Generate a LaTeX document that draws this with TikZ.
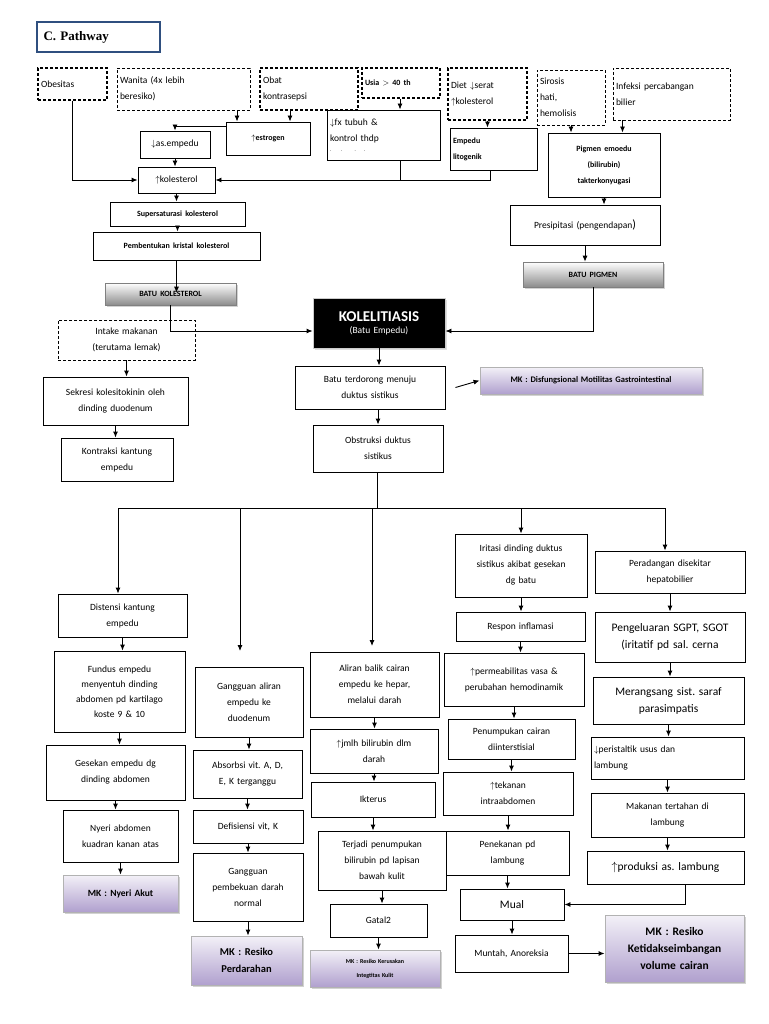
\documentclass[tikz,border=0pt]{standalone}
\usepackage{fontspec}
\setmainfont{Carlito}
\newfontfamily\serifbold{Liberation Serif}
\usetikzlibrary{arrows.meta,shadows}
\definecolor{mkpurple}{RGB}{176,160,206}
\definecolor{titleblue}{RGB}{47,79,127}
\tikzset{
  b/.style={draw,line width=0.9pt,align=center,inner sep=2pt,font=\fontsize{9.5}{16}\selectfont},
  dsh/.style={dash pattern=on 3pt off 2pt},
  dthick/.style={dsh,line width=1.4pt},
  gray box/.style={top color=white,bottom color=black!45,draw=black!50,drop shadow={shadow xshift=2pt,shadow yshift=-2pt,fill=black!35}},
  mk/.style={top color=white!85!mkpurple,bottom color=mkpurple,draw=black!30,drop shadow={shadow xshift=2pt,shadow yshift=-2pt,fill=black!35},font=\bfseries\fontsize{9.5}{16}\selectfont},
  a/.style={line width=0.9pt,-{Latex[length=6pt,width=5pt]}},
  l/.style={line width=0.9pt}
}
\newcommand{\mybox}[7]{\node[b,#7,minimum width={#4pt-#2pt},minimum height={#5pt-#3pt},text width={#4pt-#2pt-6pt}] (#1) at ({(#2+#4)/2},{(#3+#5)/2}) {#6};}
\begin{document}
\frenchspacing
\begin{tikzpicture}[x=1pt,y=-1pt]
\useasboundingbox (0,0) rectangle (768,1024);
\node[draw=titleblue,line width=1.6pt,minimum width=123pt,minimum height=30pt,font=\serifbold\bfseries\fontsize{13}{15}\selectfont,text width=110pt,align=left] (title) at (98.5,37) {C. Pathway};
% top row
\mybox{obes}{38}{68}{107}{100}{\raggedright Obesitas\par\vspace{10pt}}{dthick,align=left}
\mybox{wan}{117}{68}{250}{110}{\raggedright Wanita (4x lebih\\ beresiko)}{dsh,align=left}
\mybox{obat}{260}{68}{358}{110}{\raggedright Obat\\ kontrasepsi}{dthick,align=left}
\mybox{usia}{362}{68}{440}{98}{\raggedright\bfseries\fontsize{8}{10}\selectfont Usia $>$ 40 th\par\vspace{6pt}}{dthick,align=left}
\mybox{diet}{448}{68}{527}{120}{\raggedright Diet $\downarrow$serat\\ $\uparrow$kolesterol}{dthick,align=left}
\mybox{sir}{537}{70}{605}{125}{\raggedright Sirosis\\ hati,\\ hemolisis}{dsh,align=left}
\mybox{inf}{613}{68}{730}{120}{\raggedright Infeksi percabangan\\ bilier\par\vspace{8pt}}{dsh,align=left}
% second row
\mybox{asemp}{140}{131}{210}{158}{$\downarrow$as.empedu}{}
\mybox{estr}{226}{122}{310}{155}{\bfseries\fontsize{8}{10}\selectfont$\uparrow$estrogen}{}
\mybox{fx}{327}{110}{440}{160}{\raggedright $\downarrow$fx tubuh \&\\ kontrol thdp\\[-6pt] \tiny . \ \ . \ \ \ . \quad .}{align=left}
\mybox{emp}{450}{128}{537}{170}{\raggedright\bfseries\fontsize{8}{16}\selectfont Empedu\\ litogenik}{align=left}
\mybox{pig}{548}{133}{660}{197}{\bfseries\fontsize{8}{16}\selectfont Pigmen emoedu\\ (bilirubin)\\ takterkonyugasi}{}
\mybox{kol}{138}{167}{215}{193}{$\uparrow$kolesterol}{}
\mybox{sup}{110}{202}{245}{226}{\bfseries\fontsize{8}{10}\selectfont Supersaturasi kolesterol}{}
\mybox{pem}{93}{232}{260}{260}{\bfseries\fontsize{8}{10}\selectfont Pembentukan kristal kolesterol}{}
\mybox{pres}{510}{205}{660}{245}{Presipitasi (pengendapan{\large )}}{}
\mybox{batup}{523}{262}{663}{287}{\bfseries\fontsize{8}{10}\selectfont BATU PIGMEN}{gray box,line width=0.6pt}
\mybox{batuk}{105}{283}{236}{305}{\bfseries\fontsize{8}{10}\selectfont BATU KOLESTEROL}{gray box,line width=0.6pt}
\mybox{kolel}{313}{298}{445}{348}{{\bfseries\fontsize{15}{18}\selectfont KOLELITIASIS}\\[-4pt] (Batu Empedu)}{fill=black,text=white,draw=black!20,drop shadow={shadow xshift=2pt,shadow yshift=-2pt,fill=black!25}}
\mybox{intk}{58}{320}{195}{360}{Intake makanan\\ (terutama lemak)}{dsh,line width=0.7pt}
\mybox{sekr}{43}{377}{188}{425}{Sekresi kolesitokinin oleh\\ dinding duodenum}{}
\mybox{kontr}{61}{438}{173}{481}{Kontraksi kantung\\ empedu}{}
\mybox{batu}{295}{366}{445}{409}{Batu terdorong menuju\\ duktus sistikus}{}
\mybox{mk1}{480}{367}{702}{394}{MK : Disfungsional Motilitas Gastrointestinal}{mk,font=\bfseries\fontsize{8.5}{10}\selectfont}
\mybox{obs}{313}{425}{443}{472}{Obstruksi duktus\\ sistikus}{}
% column 1
\mybox{dist}{58}{594}{187}{637}{Distensi kantung\\ empedu}{}
\mybox{fund}{54}{651}{185}{732}{Fundus empedu\\ menyentuh dinding\\ abdomen pd kartilago\\ koste 9 \& 10}{font=\fontsize{9.5}{15}\selectfont}
\mybox{gese}{46}{745}{185}{800}{Gesekan empedu dg\\ dinding abdomen\par\vspace{8pt}}{}
\mybox{nyer}{63}{810}{178}{862}{Nyeri abdomen\\ kuadran kanan atas\par\vspace{8pt}}{}
\mybox{mkn}{63}{875}{178}{912}{MK : Nyeri Akut\par\vspace{8pt}}{mk}
% column 2
\mybox{gang}{195}{667}{303}{737}{Gangguan aliran\\ empedu ke\\ duodenum}{}
\mybox{abs}{193}{750}{302}{798}{Absorbsi vit. A, D,\\ E, K terganggu}{}
\mybox{defi}{193}{810}{303}{843}{Defisiensi vit, K\par\vspace{6pt}}{}
\mybox{gpem}{193}{853}{303}{921}{Gangguan\\ pembekuan darah\\ normal}{}
\mybox{mkp}{191}{936}{302}{985}{MK : Resiko\\ Perdarahan}{mk,font=\bfseries\fontsize{10.5}{17}\selectfont}
% column 3
\mybox{alir}{310}{652}{439}{717}{Aliran balik cairan\\ empedu ke hepar,\\ melalui darah}{}
\mybox{jmlh}{310}{729}{438}{773}{$\uparrow$jmlh bilirubin dlm\\ darah}{}
\mybox{ikt}{311}{782}{435}{817}{Ikterus\par\vspace{8pt}}{}
\mybox{terj}{318}{831}{446}{890}{Terjadi penumpukan\\ bilirubin pd lapisan\\ bawah kulit}{}
\mybox{gat}{330}{904}{427}{937}{Gatal2\par\vspace{6pt}}{}
\mybox{mkk}{310}{950}{440}{987}{MK : Resiko Kerusakan\\ Integtitas Kulit}{mk,font=\bfseries\fontsize{6}{14}\selectfont}
% column 4
\mybox{irit}{455}{534}{587}{597}{Iritasi dinding duktus\\ sistikus akibat gesekan\\ dg batu}{}
\mybox{resp}{456}{612}{585}{641}{Respon inflamasi}{}
\mybox{perm}{444}{653}{584}{706}{$\uparrow$permeabilitas vasa \&\\ perubahan hemodinamik\par\vspace{8pt}}{}
\mybox{penu}{448}{719}{575}{759}{Penumpukan cairan\\ diinterstisial}{}
\mybox{teka}{443}{772}{573}{815}{$\uparrow$tekanan\\ intraabdomen}{}
\mybox{pene}{446}{831}{569}{875}{Penekanan pd\\ lambung\par\vspace{6pt}}{}
\mybox{mual}{460}{889}{564}{920}{\fontsize{11.5}{13}\selectfont Mual}{}
\mybox{munt}{455}{935}{568}{972}{Muntah, Anoreksia\par\vspace{8pt}}{}
\mybox{mkc}{605}{915}{744}{982}{MK : Resiko\\ Ketidakseimbangan\\ volume cairan}{mk,font=\bfseries\fontsize{11.5}{17}\selectfont}
% column 5
\mybox{pera}{595}{551}{745}{593}{Peradangan disekitar\\ hepatobilier}{}
\mybox{peng}{595}{612}{745}{662}{Pengeluaran SGPT, SGOT\\ (iritatif pd sal. cerna\par\vspace{6pt}}{font=\fontsize{11.5}{17}\selectfont}
\mybox{mera}{593}{677}{744}{724}{Merangsang sist. saraf\\ parasimpatis}{font=\fontsize{11.5}{17}\selectfont}
\mybox{peri}{591}{737}{744}{779}{\raggedright $\downarrow$peristaltik usus dan\\ lambung}{align=left}
\mybox{maka}{591}{793}{744}{837}{Makanan tertahan di\\ lambung}{}
\mybox{prod}{587}{851}{744}{884}{$\uparrow$produksi as. lambung\par\vspace{4pt}}{font=\fontsize{11.5}{14}\selectfont}
% arrows top
\draw[a] (obes.south) |- (kol.west);
\draw[a] ([xshift=-31pt]estr.north |- wan.south) -- ([xshift=-31pt]estr.north);
\draw[a] ([xshift=22pt]estr.north |- obat.south) -- ([xshift=22pt]estr.north);
\draw[a] ([yshift=-5pt]estr.north west) -| (asemp.north);
\draw[a] (asemp.south) -- (asemp.south |- kol.north);
\draw[a] ([xshift=-1pt]usia.south) -- ([xshift=-1pt]usia.south |- fx.north);
\draw[l] ([xshift=-1pt]usia.south |- fx.south) -- ([xshift=-1pt]usia.south |- kol.east);
\draw[a] ([xshift=-3pt]emp.south) |- (kol.east);
\draw[a] (diet.south) -- (diet.south |- emp.north);
\draw[a] (sir.south) -- (sir.south |- pig.north);
\draw[a] ([xshift=-49pt]inf.south) -- ([xshift=-49pt]inf.south |- pig.north);
\draw[a] (kol.south) -- (kol.south |- sup.north);
\draw[a] (sup.south) -- (sup.south |- pem.north);
\draw[a] (pem.south) -- ([yshift=-10pt]pem.south |- batuk.north);
\draw[a] (pig.south) -- (pig.south |- pres.north);
\draw[a] (pres.south) -- (pres.south |- batup.north);
\draw[a] (batuk.south) |- ([yshift=-8pt]kolel.west);
\draw[a] (batup.south) |- ([yshift=-8pt]kolel.east);
\draw[a] (intk.south) -- (intk.south |- sekr.north);
\draw[a] (sekr.south) -- (sekr.south |- kontr.north);
\draw[a] (kolel.south) -- (kolel.south |- batu.north);
\draw[a] ([xshift=10pt]batu.east) -- (mk1.west);
\draw[a] (obs.north |- batu.south) -- (obs.north);
% distribution
\coordinate (hub) at (377,508);
\coordinate (hl) at (118,508);
\coordinate (hr) at (665,508);
\draw[l] (obs.south -| hub) -- (hub);
\draw[l] (hl) -- (hr);
\draw[a] (hl) -- (hl |- dist.north);
\draw[a] (240,508) -- (240,651);
\draw[a] (372,508) -- (372,646);
\draw[a] (irit.north |- hub) -- (irit.north);
\draw[a] (hr) -- (hr |- pera.north);
% chains
\foreach \p/\q in {dist/fund,fund/gese,gese/nyer,nyer/mkn,gang/abs,abs/defi,defi/gpem,gpem/mkp,alir/jmlh,jmlh/ikt,ikt/terj,terj/gat,gat/mkk,irit/resp,resp/perm,perm/penu,penu/teka,teka/pene,pene/mual,mual/munt,pera/peng,peng/mera,mera/peri,peri/maka,maka/prod}
  \draw[a] (\p.south) -- (\p.south |- \q.north);
\draw[a] ([xshift=20pt]prod.south) |- (mual.east);
\draw[a] (munt.east) -- (munt.east -| mkc.west);
\end{tikzpicture}
\end{document}
